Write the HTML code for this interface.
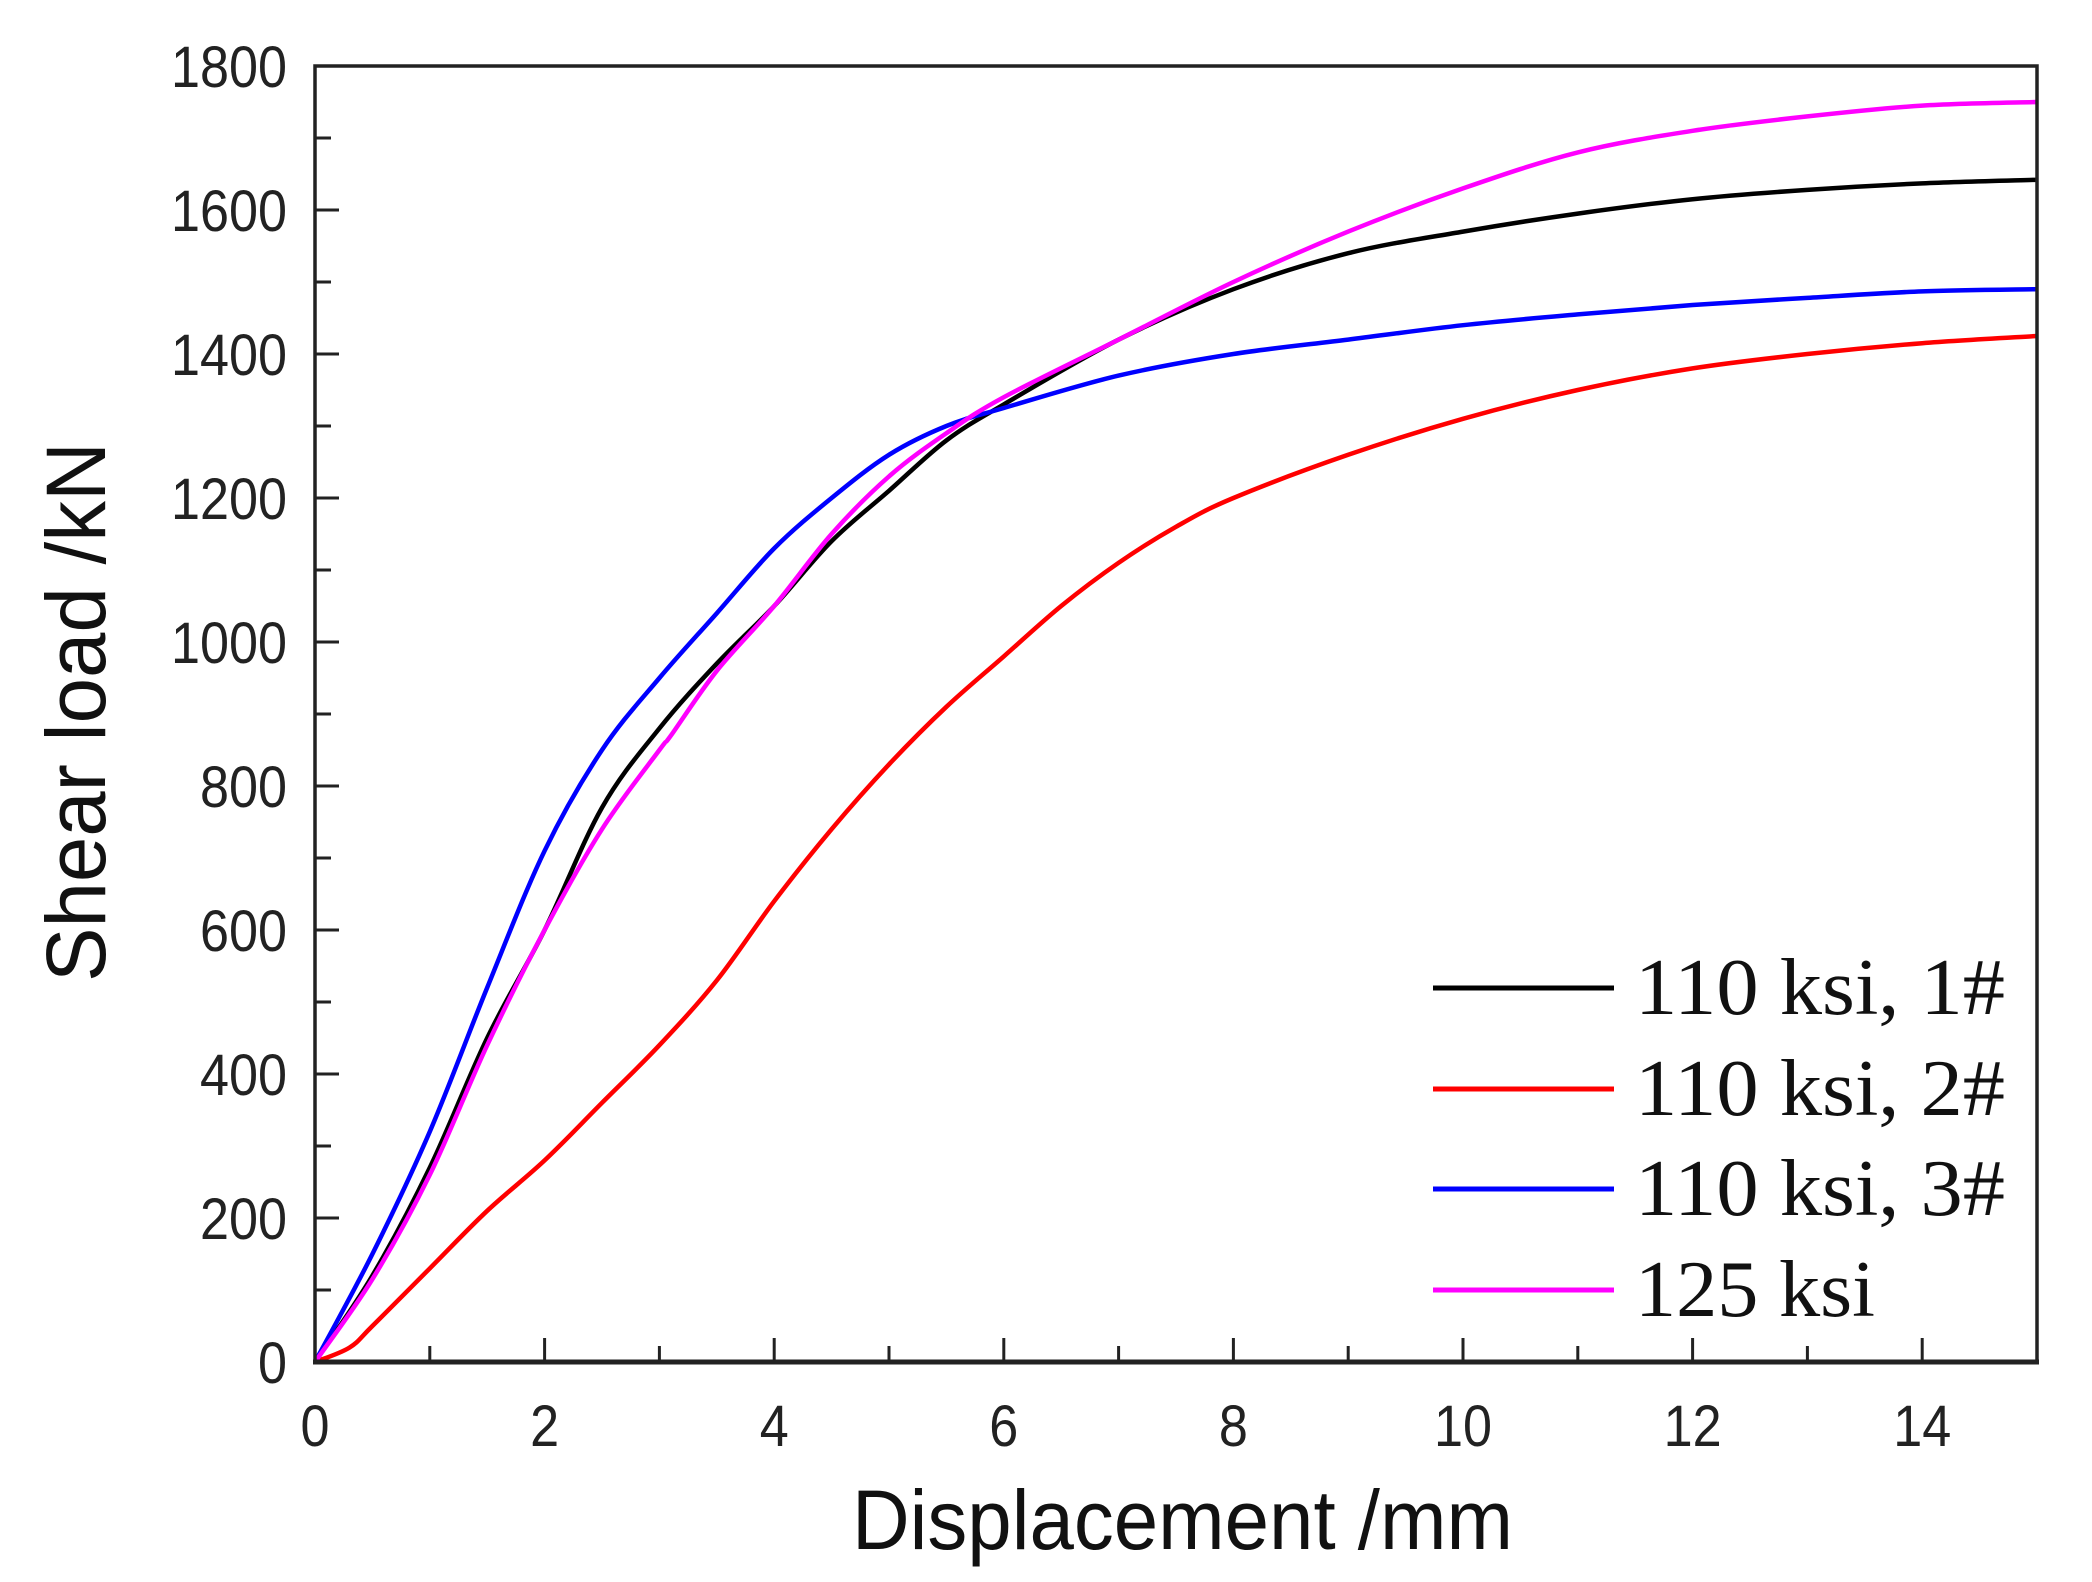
<!DOCTYPE html>
<html><head><meta charset="utf-8"><style>
html,body{margin:0;padding:0;background:#fff;}
svg{display:block;}
</style></head><body>
<svg id="s" width="2092" height="1582" viewBox="0 0 2092 1582" xmlns="http://www.w3.org/2000/svg">
<rect width="2092" height="1582" fill="#fff"/>
<g id="ticks" stroke="#222" stroke-width="3"></g>
<g id="curves" fill="none" stroke-width="4.5" stroke-linejoin="round"></g>
<rect x="315" y="66" width="1722" height="1296" fill="none" stroke="#222" stroke-width="3.5"/>
<line x1="313" y1="1362" x2="2039" y2="1362" stroke="#222" stroke-width="5"/>
<g id="labels" font-family="Liberation Sans, sans-serif" font-size="58" fill="#222"></g>
<text x="0" y="0" transform="translate(105,712) rotate(-90)" text-anchor="middle" font-family="Liberation Sans, sans-serif" font-size="84" fill="#111" textLength="540" lengthAdjust="spacingAndGlyphs">Shear load /kN</text>
<text x="852" y="1549" font-family="Liberation Sans, sans-serif" font-size="84" fill="#111" textLength="661" lengthAdjust="spacingAndGlyphs">Displacement /mm</text>
<g font-family="Liberation Serif, serif" font-size="80" fill="#111">
<line x1="1433" y1="988" x2="1614" y2="988" stroke="#000" stroke-width="5"/>
<text x="1635" y="1014" textLength="370" lengthAdjust="spacingAndGlyphs">110 ksi, 1#</text>
<line x1="1433" y1="1089" x2="1614" y2="1089" stroke="#ff0000" stroke-width="5"/>
<text x="1635" y="1115" textLength="370" lengthAdjust="spacingAndGlyphs">110 ksi, 2#</text>
<line x1="1433" y1="1189" x2="1614" y2="1189" stroke="#0000ff" stroke-width="5"/>
<text x="1635" y="1215" textLength="370" lengthAdjust="spacingAndGlyphs">110 ksi, 3#</text>
<line x1="1433" y1="1290" x2="1614" y2="1290" stroke="#ff00ff" stroke-width="5"/>
<text x="1635" y="1316" textLength="240" lengthAdjust="spacingAndGlyphs">125 ksi</text>
</g>
</svg>
<script>
var NS="http://www.w3.org/2000/svg";
function X(x){return 315+114.8*x;}
function Y(y){return 1362-0.72*y;}
function el(n,a,p){var e=document.createElementNS(NS,n);for(var k in a)e.setAttribute(k,a[k]);p.appendChild(e);return e;}
var T=document.getElementById('ticks'),L=document.getElementById('labels');
for(var i=0;i<=15;i++){var x=X(i),len=(i%2==0)?24:16;el('line',{x1:x,y1:1362,x2:x,y2:1362-len},T);
 if(i%2==0){var s=String(i);var t=el('text',{x:x,y:1446,'text-anchor':'middle',textLength:29*s.length,lengthAdjust:'spacingAndGlyphs'},L);t.textContent=s;}}
for(var v=0;v<=1800;v+=100){var y=Y(v),len=(v%200==0)?24:16;el('line',{x1:315,y1:y,x2:315+len,y2:y},T);
 if(v%200==0){var s=String(v);var t=el('text',{x:287,y:y+21,'text-anchor':'end',textLength:29*s.length,lengthAdjust:'spacingAndGlyphs'},L);t.textContent=s;}}
var data={
"#000000":[[0,0],[0.5,120],[1,270],[1.5,450],[2,600],[2.5,770],[3,880],[3.5,970],[4,1050],[4.5,1140],[5,1210],[5.5,1280],[6,1330],[7,1420],[8,1490],[9,1540],[10,1570],[11,1595],[12,1615],[13,1628],[14,1637],[15,1642]],
"#ff0000":[[0,0],[0.3,20],[0.5,50],[1,130],[1.5,210],[2,280],[2.5,360],[3,440],[3.5,530],[4,640],[4.5,740],[5,830],[5.5,910],[6,980],[6.5,1050],[7,1110],[7.5,1160],[8,1200],[9,1260],[10,1310],[11,1350],[12,1380],[13,1400],[14,1415],[15,1425]],
"#0000ff":[[0,0],[0.5,150],[1,320],[1.5,520],[2,710],[2.5,850],[3,950],[3.5,1040],[4,1130],[4.5,1200],[5,1260],[5.5,1300],[6,1325],[7,1370],[8,1400],[9,1420],[10,1440],[11,1455],[12,1468],[13,1478],[14,1487],[15,1490]],
"#ff00ff":[[0,0],[0.5,115],[1,260],[1.5,440],[2,600],[2.5,740],[3,850],[3.1,870],[3.5,960],[4,1050],[4.5,1150],[5,1230],[5.5,1290],[6,1340],[7,1420],[8,1500],[9,1570],[10,1630],[11,1680],[12,1710],[13,1730],[14,1745],[15,1750]]};
var C=document.getElementById('curves');
for(var c in data){var p=data[c],d="M"+X(p[0][0])+","+Y(p[0][1]);
 for(var i=0;i<p.length-1;i++){var p0=p[i>0?i-1:i],p1=p[i],p2=p[i+1],p3=p[i+2<p.length?i+2:i+1];
  var x1=X(p1[0]),y1=Y(p1[1]),x2=X(p2[0]),y2=Y(p2[1]);
  var c1x=x1+(X(p2[0])-X(p0[0]))/6,c1y=y1+(Y(p2[1])-Y(p0[1]))/6;
  var c2x=x2-(X(p3[0])-X(p1[0]))/6,c2y=y2-(Y(p3[1])-Y(p1[1]))/6;
  d+=" C"+c1x+","+c1y+" "+c2x+","+c2y+" "+x2+","+y2;}
 el('path',{d:d,stroke:c},C);}
</script>
</body></html>
